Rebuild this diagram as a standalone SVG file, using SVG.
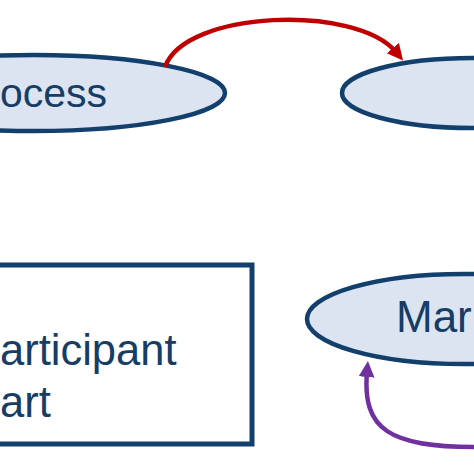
<svg xmlns="http://www.w3.org/2000/svg" width="474" height="474" viewBox="0 0 474 474">
<style>
.node{fill:#dce4f2;stroke:#123f6b;stroke-width:4.5}
.box{fill:#ffffff;stroke:#123f6b;stroke-width:5}
.lbl{font-family:"Liberation Sans",Arial,sans-serif;fill:#163d66}
.red{fill:none;stroke:#c00000;stroke-width:4.5}
.pur{fill:none;stroke:#7030a0;stroke-width:4.5}
</style>
<defs>
<marker id="ahRed" markerUnits="userSpaceOnUse" markerWidth="18" markerHeight="18" refX="5" refY="8" orient="auto"><path d="M0,0 L16,8 L0,16 z" fill="#c00000"/></marker>
<marker id="ahPur" markerUnits="userSpaceOnUse" markerWidth="18" markerHeight="18" refX="5" refY="8" orient="auto"><path d="M0,0 L16,8 L0,16 z" fill="#7030a0"/></marker>
</defs>
<g id="node-process">
<ellipse class="node" cx="34" cy="93" rx="191" ry="38"/>
<text class="lbl" x="0" y="107" font-size="41">ocess</text>
</g>
<g id="node-right-top">
<ellipse class="node" cx="472" cy="93" rx="130" ry="35"/>
</g>
<g id="node-participant">
<rect class="box" x="-10" y="265" width="262" height="179"/>
<text class="lbl" x="0" y="365" font-size="43.5">articipant</text>
<text class="lbl" x="0" y="417" font-size="43.5">art</text>
</g>
<g id="node-mar">
<ellipse class="node" cx="464" cy="319" rx="157" ry="45"/>
<text class="lbl" x="396" y="332" font-size="44">Mar</text>
</g>
<g id="connectors">
<path class="red" d="M165,67 C185,10 356,4 396,52" marker-end="url(#ahRed)"/>
<path class="pur" d="M476,447 C390,447 362,430 367,372" marker-end="url(#ahPur)"/>
</g>
</svg>
